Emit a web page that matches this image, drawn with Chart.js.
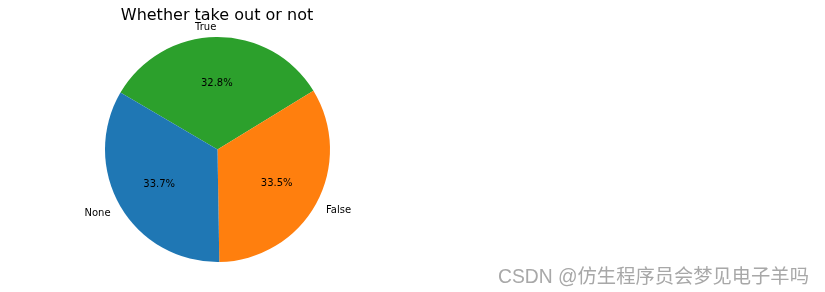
<!DOCTYPE html>
<html>
<head>
<meta charset="utf-8">
<script src="https://cdn.jsdelivr.net/npm/chart.js@4"></script>
<style>
  body { margin: 0; background: #fff; }
  #wrap { position: relative; width: 825px; height: 292px; }
  #mark { position: absolute; left: 498px; top: 261px; font-family: "Liberation Sans", "Noto Sans CJK SC", sans-serif;
          font-size: 19.3px; color: #a8a8a8; white-space: nowrap; }
</style>
</head>
<body>
<div id="wrap">
  <canvas id="myChart" width="825" height="292"></canvas>
  <div id="mark">CSDN @仿生程序员会梦见电子羊吗</div>
</div>
<script>
var labels = ["True", "False", "None"];
var shares = [32.8, 33.5, 33.7];
var colors = ["#2ca02c", "#ff7f0e", "#1f77b4"];
var chartTitle = "Whether take out or not";

// matplotlib-like labels: name at 1.1r, percentage at 0.6r
var pieText = {
    id: "pieText",
    afterDraw: function (chart) {
        var ctx = chart.ctx;
        var arcs = chart.getDatasetMeta(0).data;
        ctx.save();
        ctx.fillStyle = "#000";
        arcs.forEach(function (arc, i) {
            var mid = (arc.startAngle + arc.endAngle) / 2;
            var r = arc.outerRadius;
            var cx = Math.cos(mid), cy = Math.sin(mid);
            ctx.font = "10px 'DejaVu Sans'";
            ctx.textBaseline = "middle";
            ctx.textAlign = "center";
            ctx.fillText(shares[i].toFixed(1) + "%", arc.x + cx * r * 0.6, arc.y + cy * r * 0.6 + 1);
            ctx.textAlign = cx > 0 ? "left" : "right";
            ctx.fillText(labels[i], arc.x + cx * r * 1.1, arc.y + cy * r * 1.1 + 1.5);
        });
        var a = chart.chartArea;
        ctx.font = "16px 'DejaVu Sans'";
        ctx.textAlign = "center";
        ctx.textBaseline = "alphabetic";
        ctx.fillText(chartTitle, (a.left + a.right) / 2 - 0.5, 20);
        ctx.restore();
    }
};

new Chart("myChart", {
    type: "pie",
    data: {
        labels: labels,
        datasets: [{
            data: shares,
            backgroundColor: colors,
            borderWidth: 0
        }]
    },
    options: {
        responsive: false,
        animation: false,
        devicePixelRatio: 1,
        rotation: -59.6,
        layout: { padding: { left: 105, right: 495, top: 37, bottom: 30 } },
        plugins: {
            legend: { display: false },
            tooltip: { enabled: false }
        }
    },
    plugins: [pieText]
});
</script>
</body>
</html>
